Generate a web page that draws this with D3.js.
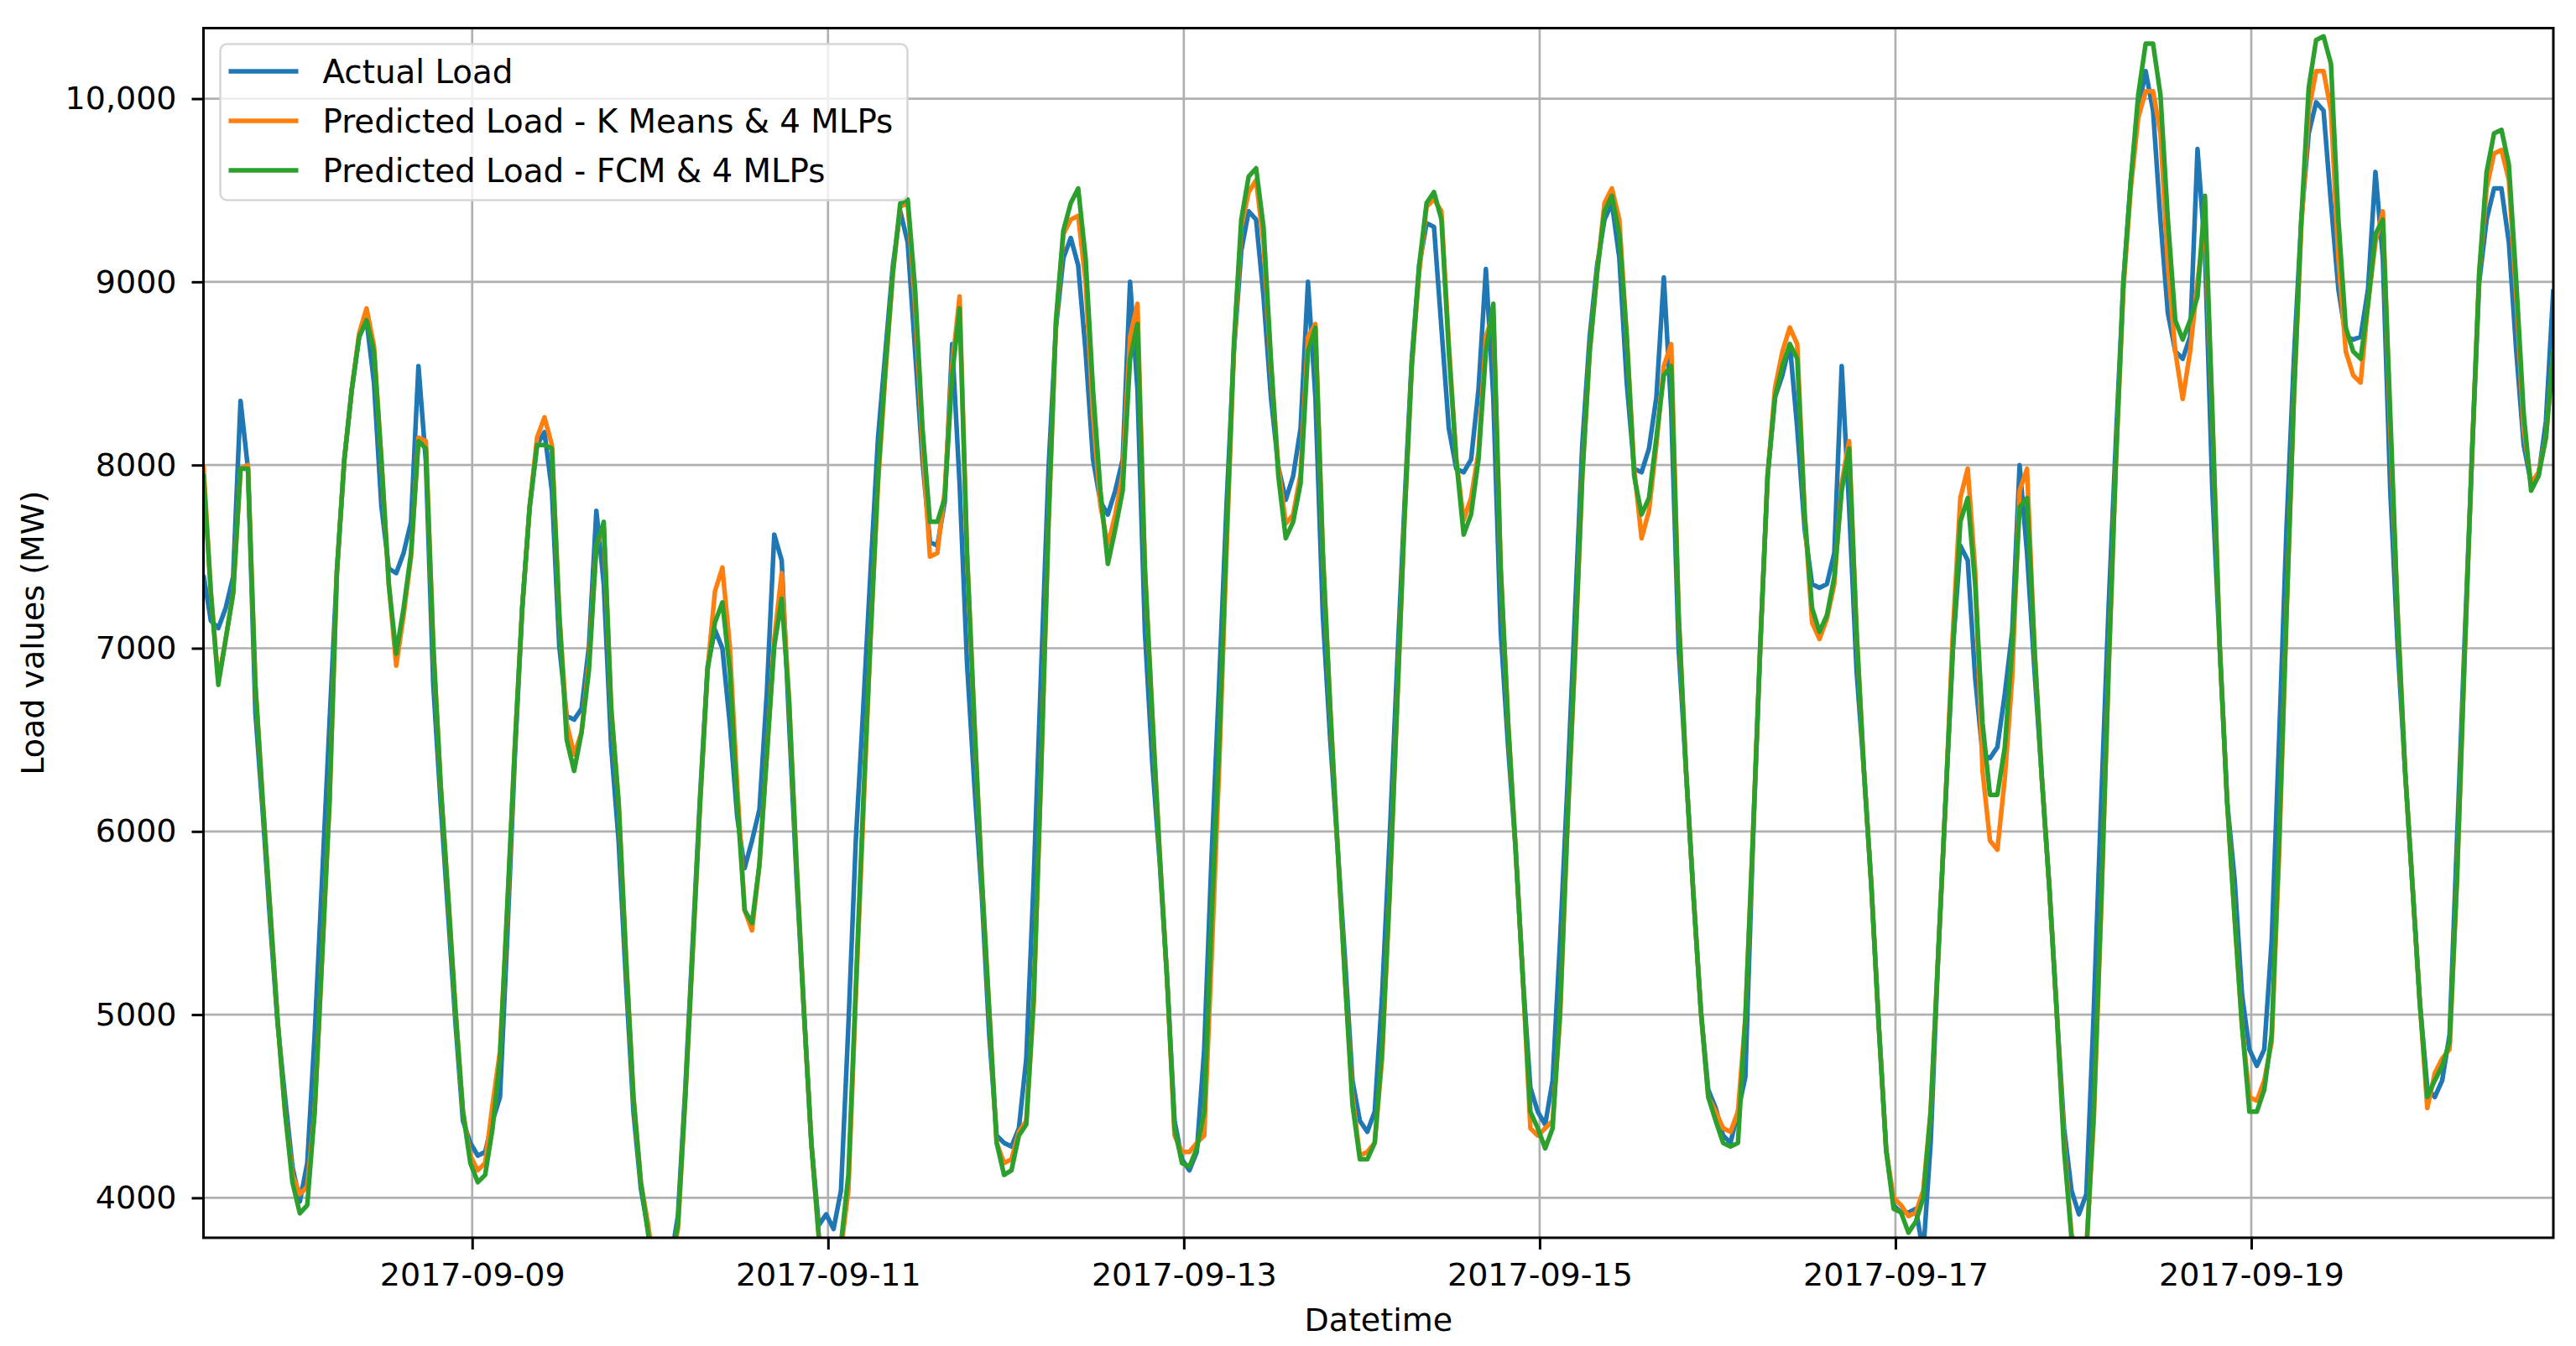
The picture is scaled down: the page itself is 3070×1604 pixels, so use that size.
<!DOCTYPE html>
<html>
<head>
<meta charset="utf-8">
<script src="https://cdn.jsdelivr.net/npm/d3@7"></script>
<style>
  body { margin: 0; background: #ffffff; }
  text { font-family: "DejaVu Sans", sans-serif; fill: #000000; }
</style>
</head>
<body>
<script>

// ----- Data (hourly load, MW) -----

const startTime = "2017-09-07 11:45";

const seriesNames = ["Actual Load", "Predicted Load - K Means & 4 MLPs", "Predicted Load - FCM & 4 MLPs"];
const seriesColors = ["#1f77b4", "#ff7f0e", "#2ca02c"];

const actualLoad = [
    7400,7150,7110,7220,7390,8350,7980,6650,6100,5500,4950,4550,
    4170,3980,4190,4890,5740,6590,7420,8030,8410,8700,8790,8450,
    7775,7435,7410,7520,7690,8540,8020,6800,6150,5550,4950,4420,
    4300,4230,4250,4420,4550,5440,6400,7220,7770,8110,8180,7860,
    7010,6630,6610,6670,7010,7750,7350,6460,5950,5180,4470,4050,
    3820,3550,3450,3650,3900,4600,5400,6200,6900,7100,7000,6590,
    6080,5800,5950,6120,6760,7620,7480,6590,5750,5020,4300,3850,
    3910,3830,4040,4940,5950,6670,7430,8150,8620,9090,9385,9215,
    8620,8020,7580,7560,7800,8660,7900,6920,6250,5650,4890,4340,
    4300,4280,4380,4760,5740,6880,7980,8750,9130,9240,9090,8620,
    8030,7800,7730,7860,8030,9000,8410,7090,6370,5830,5190,4420,
    4210,4150,4250,4810,5870,6800,7770,8620,9170,9385,9340,8920,
    8370,7990,7810,7940,8200,9000,8370,7180,6500,5910,5300,4640,
    4420,4360,4470,5110,5950,6880,7770,8580,9090,9320,9300,8750,
    8200,7980,7960,8030,8410,9070,8370,7090,6460,5910,5190,4600,
    4470,4400,4640,5400,6250,7180,8110,8700,9090,9340,9430,9130,
    8450,7980,7960,8090,8370,9025,8300,7000,6330,5650,5020,4590,
    4490,4340,4300,4470,4660,5910,7000,7940,8370,8490,8660,8200,
    7650,7350,7330,7350,7520,8540,7770,6880,6330,5700,4940,4260,
    3960,3920,3920,3940,3700,4300,5310,6160,7000,7560,7480,6840,
    6420,6400,6460,6750,7090,8000,7520,6880,6290,5700,5020,4380,
    4040,3910,4020,5020,6160,7220,8150,9000,9555,9935,10150,9935,
    9340,8830,8620,8580,8700,9725,9170,7860,7000,6160,5740,5110,
    4810,4720,4810,5400,6500,7650,8580,9340,9810,9980,9935,9430,
    8960,8700,8685,8700,8960,9600,9130,7860,7010,6330,5700,5060,
    4600,4550,4640,4890,5950,7010,8030,9000,9340,9510,9510,9215,
    8620,8110,7900,7940,8240,8960
];

const kmeansLoad = [
    8000,7300,6820,7050,7300,7980,8000,6800,6160,5570,4970,4470,
    4125,4020,4060,4470,5310,6160,7420,8030,8410,8720,8855,8650,
    8030,7350,6905,7180,7500,8150,8130,7010,6250,5650,5020,4470,
    4230,4150,4190,4510,4800,5570,6460,7220,7770,8150,8260,8110,
    7180,6590,6420,6540,6920,7560,7650,6670,6160,5310,4550,4085,
    3850,3550,3450,3620,3830,4550,5350,6160,6880,7310,7440,7010,
    6250,5570,5460,5820,6420,7050,7410,6710,5820,5020,4300,3790,
    3720,3680,3720,4040,5100,6080,7070,7900,8500,9050,9410,9430,
    8880,8120,7500,7520,7860,8540,8920,7520,6590,5740,5020,4300,
    4190,4210,4360,4420,5060,6330,7690,8770,9260,9340,9360,9000,
    8280,7780,7560,7730,7950,8700,8880,7430,6630,5870,5190,4340,
    4250,4250,4300,4340,5310,6330,7520,8620,9300,9490,9555,9215,
    8540,7990,7680,7730,7950,8700,8770,7520,6670,5910,5190,4550,
    4230,4250,4300,4760,5650,6670,7690,8540,9050,9410,9450,9385,
    8660,8030,7700,7820,8070,8700,8830,7430,6590,5910,5190,4380,
    4340,4380,4420,4980,6040,6920,7940,8620,9050,9430,9510,9340,
    8700,7980,7600,7750,8110,8540,8660,7180,6330,5650,5020,4550,
    4470,4380,4360,4470,4980,5950,7000,7940,8420,8620,8750,8660,
    7730,7140,7050,7160,7350,7900,8130,7090,6330,5700,4940,4260,
    4000,3960,3900,3920,4040,4470,5310,6160,7090,7820,7980,7430,
    6330,5950,5900,6290,6840,7860,7980,7000,6290,5700,5020,4300,
    3800,3700,3720,4420,5570,6880,8030,8960,9510,9895,10040,10040,
    9810,9090,8620,8360,8620,9000,9340,8280,7000,6160,5530,4940,
    4550,4530,4640,4850,5870,7180,8370,9300,9935,10150,10150,9935,
    9130,8620,8490,8450,8880,9215,9385,8200,7180,6330,5700,5060,
    4490,4680,4760,4810,5740,6920,8030,9050,9510,9700,9720,9555,
    8920,8200,7900,7960,8150,8620
];

const fcmLoad = [
    7950,7300,6800,7050,7300,7980,7980,6800,6160,5570,4970,4470,
    4085,3915,3960,4470,5310,6160,7420,8030,8410,8700,8790,8620,
    8030,7350,6970,7220,7520,8130,8090,7010,6250,5650,5020,4470,
    4190,4085,4125,4380,4760,5610,6460,7220,7770,8110,8110,8090,
    7180,6500,6330,6540,6880,7560,7690,6670,6160,5310,4550,4085,
    3800,3550,3450,3650,3850,4550,5350,6160,6880,7140,7250,6880,
    6160,5570,5500,5820,6420,7010,7270,6710,5820,5020,4300,3790,
    3700,3650,3750,4125,5150,6160,7070,7940,8540,9050,9430,9450,
    8960,8200,7690,7690,7820,8490,8855,7520,6590,5740,5020,4300,
    4125,4150,4340,4400,5100,6330,7690,8790,9280,9430,9510,9130,
    8410,7860,7460,7650,7860,8580,8770,7430,6630,5870,5190,4380,
    4190,4170,4270,4470,5530,6460,7600,8660,9340,9575,9620,9300,
    8580,7940,7600,7690,7900,8620,8750,7520,6670,5910,5190,4510,
    4210,4210,4300,4810,5650,6670,7690,8540,9090,9430,9490,9340,
    8620,8030,7620,7730,8030,8620,8880,7430,6590,5910,5190,4470,
    4380,4270,4380,5020,6040,6960,7940,8620,9050,9385,9470,9260,
    8700,7940,7730,7820,8150,8490,8540,7180,6330,5650,5020,4550,
    4420,4300,4280,4300,4980,5950,7000,7940,8370,8540,8660,8580,
    7730,7220,7090,7180,7390,7860,8090,7090,6330,5700,4940,4260,
    3940,3920,3810,3870,4000,4470,5310,6160,7000,7690,7820,7350,
    6590,6200,6200,6460,7010,7770,7820,7000,6290,5700,5020,4260,
    3780,3650,3700,4470,5610,6880,8030,9000,9555,10020,10300,10300,
    10020,9340,8790,8685,8790,8920,9470,8280,7000,6160,5530,4940,
    4470,4470,4590,4890,5950,7180,8370,9340,10060,10320,10340,10190,
    9340,8750,8620,8580,8880,9260,9340,8280,7180,6330,5700,5060,
    4550,4640,4720,4850,5740,6920,8030,9050,9600,9810,9830,9640,
    9000,8280,7860,7940,8150,8620
];

const yTickValues = [4000, 5000, 6000, 7000, 8000, 9000, 10000];
const xTickLabels = ["2017-09-09", "2017-09-11", "2017-09-13", "2017-09-15", "2017-09-17", "2017-09-19"];

// ----- Layout -----

const width = 3070;
const height = 1604;
const margin = { left: 242.5, right: 27, top: 33.5, bottom: 129 };
const xMax = width - margin.left - margin.right;
const yMax = height - margin.top - margin.bottom;
const fontSize = 38;
const legendFontSize = 38.8;

const parseTime = d3.timeParse("%Y-%m-%d %H:%M");
const parseDay = d3.timeParse("%Y-%m-%d");
const t0 = parseTime(startTime);
const times = actualLoad.map((d, i) => d3.timeHour.offset(t0, i));

//X Axis
let xLoad = d3.scaleTime()
    .domain(d3.extent(times))
    .range([0, xMax]);

//Y Axis
let yLoad = d3.scaleLinear()
    .domain([3782, 10385])
    .range([yMax, 0]);

const svg = d3.select("body")
    .append("svg")
    .attr("width", width)
    .attr("height", height);

const plot = svg.append("g")
    .attr("transform", "translate(" + margin.left + "," + margin.top + ")");

svg.append("defs")
    .append("clipPath")
    .attr("id", "plotClip")
    .append("rect")
    .attr("width", xMax)
    .attr("height", yMax);

// ----- Grid -----

const xTickDates = xTickLabels.map(parseDay);

plot.append("g")
    .selectAll("line")
    .data(xTickDates)
    .enter()
    .append("line")
    .attr("x1", d => xLoad(d))
    .attr("x2", d => xLoad(d))
    .attr("y1", 0)
    .attr("y2", yMax)
    .attr("stroke", "#b0b0b0")
    .attr("stroke-width", 2.7);

plot.append("g")
    .selectAll("line")
    .data(yTickValues)
    .enter()
    .append("line")
    .attr("x1", 0)
    .attr("x2", xMax)
    .attr("y1", d => yLoad(d))
    .attr("y2", d => yLoad(d))
    .attr("stroke", "#b0b0b0")
    .attr("stroke-width", 2.7);

// ----- Lines -----

const allSeries = [actualLoad, kmeansLoad, fcmLoad];

const lineGen = d3.line()
    .x((d, i) => xLoad(times[i]))
    .y(d => yLoad(d));

plot.append("g")
    .attr("clip-path", "url(#plotClip)")
    .selectAll("path")
    .data(allSeries)
    .enter()
    .append("path")
    .attr("d", d => lineGen(d))
    .attr("fill", "none")
    .attr("stroke", (d, i) => seriesColors[i])
    .attr("stroke-width", 5.5)
    .attr("stroke-linejoin", "round");

// ----- Axes -----

const yFormat = v => v >= 10000 ? d3.format(",")(v) : d3.format("d")(v);

const xAxis = plot.append("g")
    .attr("transform", "translate(0," + yMax + ")")
    .call(d3.axisBottom(xLoad)
        .tickValues(xTickDates)
        .tickFormat(d3.timeFormat("%Y-%m-%d"))
        .tickSize(14)
        .tickPadding(16));

const yAxis = plot.append("g")
    .call(d3.axisLeft(yLoad)
        .tickValues(yTickValues)
        .tickFormat(yFormat)
        .tickSize(14)
        .tickPadding(18));

[xAxis, yAxis].forEach(ax => {
    ax.select(".domain").remove();
    ax.selectAll(".tick line").attr("stroke", "#000").attr("stroke-width", 3);
    ax.selectAll(".tick text")
        .style("font-size", fontSize + "px")
        .style("font-family", "DejaVu Sans")
        .attr("fill", "#000");
});

// frame
plot.append("rect")
    .attr("width", xMax)
    .attr("height", yMax)
    .attr("fill", "none")
    .attr("stroke", "#000")
    .attr("stroke-width", 3);

// axis labels
svg.append("text")
    .attr("x", margin.left + xMax / 2)
    .attr("y", 1586)
    .attr("text-anchor", "middle")
    .style("font-size", fontSize + "px")
    .text("Datetime");

svg.append("text")
    .attr("transform", "translate(52," + (margin.top + yMax / 2) + ") rotate(-90)")
    .attr("text-anchor", "middle")
    .style("font-size", fontSize + "px")
    .text("Load values (MW)");

// ----- Legend -----

const legend = plot.append("g")
    .attr("transform", "translate(20,19)");

legend.append("rect")
    .attr("width", 819)
    .attr("height", 186)
    .attr("rx", 8)
    .attr("fill", "#ffffff")
    .attr("fill-opacity", 0.8)
    .attr("stroke", "#d6d6d6")
    .attr("stroke-width", 2.5);

const legendRow = legend.selectAll(".legendRow")
    .data(seriesNames)
    .enter()
    .append("g")
    .attr("class", "legendRow")
    .attr("transform", (d, i) => "translate(0," + (32.5 + i * 59) + ")");

legendRow.append("line")
    .attr("x1", 10)
    .attr("x2", 93)
    .attr("stroke", (d, i) => seriesColors[i])
    .attr("stroke-width", 5.5);

legendRow.append("text")
    .attr("x", 122)
    .attr("y", 14)
    .style("font-size", legendFontSize + "px")
    .text(d => d);

</script>
</body>
</html>
